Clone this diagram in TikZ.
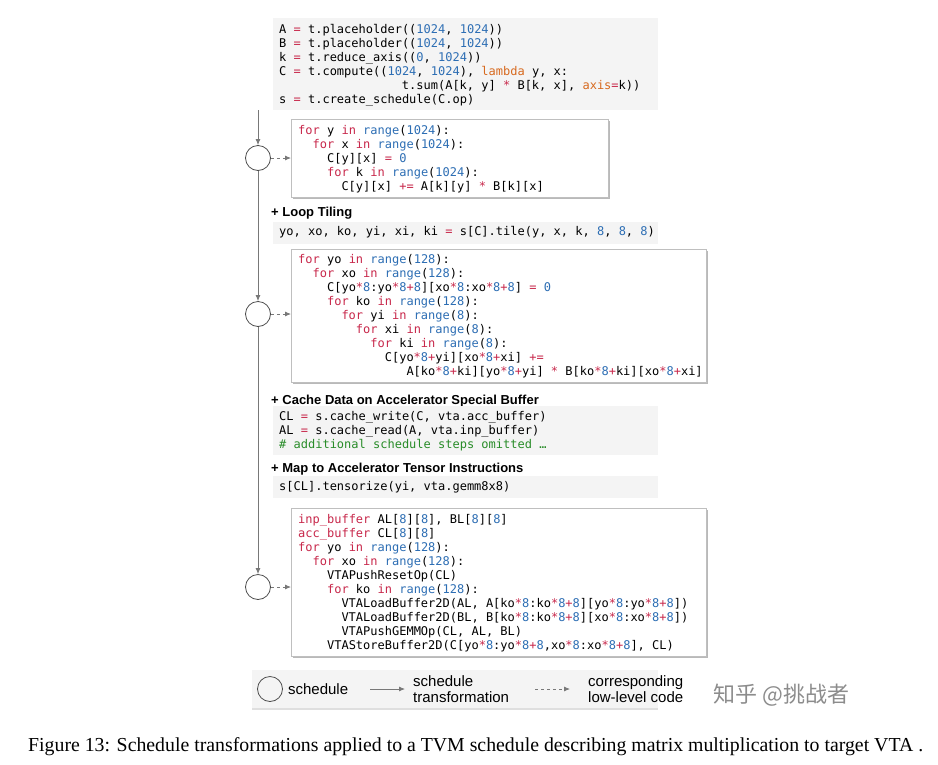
\documentclass[tikz,border=0pt]{standalone}
\usepackage{fontspec}
\setmainfont{Liberation Serif}
\newfontfamily\codefont{DejaVu Sans Mono}
\newfontfamily\headfont{Liberation Sans}
\newfontfamily\cjk{Noto Sans CJK SC}
\usetikzlibrary{positioning,shadows,arrows.meta}
\definecolor{kwred}{RGB}{200,40,75}
\definecolor{numblue}{RGB}{45,110,180}
\definecolor{argorange}{RGB}{215,105,30}
\definecolor{cmtgreen}{RGB}{40,140,40}
\definecolor{codebg}{RGB}{244,244,244}
\definecolor{linegray}{RGB}{120,120,120}
\newcommand{\kw}[1]{\textcolor{kwred}{#1}}
\newcommand{\nm}[1]{\textcolor{numblue}{#1}}
\newcommand{\ag}[1]{\textcolor{argorange}{#1}}
\newcommand{\ind}[1]{\hspace*{#1\dimexpr 7.22pt\relax}}
\tikzset{
  code/.style={anchor=north west,inner sep=0pt,align=left,
    font=\codefont\fontsize{12}{14}\selectfont},
  graybox/.style={fill=codebg,draw=none,anchor=north west},
  whitebox/.style={fill=white,draw=black!25,anchor=north west,
    drop shadow={shadow xshift=2pt,shadow yshift=-2pt,fill=black!55}},
  head/.style={anchor=base west,inner sep=0pt,font=\headfont\bfseries\fontsize{13}{15}\selectfont},
  sched/.style={circle,draw=black!70,thick,minimum size=25pt,inner sep=0pt},
  trans/.style={draw=linegray,thick,-{Latex[length=6pt,width=5pt]}},
  lower/.style={draw=linegray,thick,dashed,-{Latex[length=6pt,width=5pt]}},
  legend/.style={anchor=west,inner sep=0pt,align=left,font=\headfont\fontsize{15}{16}\selectfont}
}
\begin{document}
\begin{tikzpicture}[x=1pt,y=-1pt]
  \useasboundingbox (0,0) rectangle (938,764);

  % algorithm declaration
  \node[graybox,minimum width=385pt,minimum height=92pt] (decl) at (273,18) {};
  \node[code] (decltxt) at (279,24) {A \kw{=} t.placeholder((\nm{1024}, \nm{1024}))\\
    B \kw{=} t.placeholder((\nm{1024}, \nm{1024}))\\
    k \kw{=} t.reduce\_axis((\nm{0}, \nm{1024}))\\
    C \kw{=} t.compute((\nm{1024}, \nm{1024}), \ag{lambda} y, x:\\
    \ind{17}t.sum(A[k, y] \kw{*} B[k, x], \ag{axis}\kw{=}k))\\
    s \kw{=} t.create\_schedule(C.op)};

  % initial loop nest
  \node[whitebox,minimum width=317pt,minimum height=78pt] (nest1) at (291,119) {};
  \node[code] at (298,125) {\kw{for} y \kw{in} \nm{range}(\nm{1024}):\\
    \ind{2}\kw{for} x \kw{in} \nm{range}(\nm{1024}):\\
    \ind{4}C[y][x] \kw{=} \nm{0}\\
    \ind{4}\kw{for} k \kw{in} \nm{range}(\nm{1024}):\\
    \ind{6}C[y][x] \kw{+=} A[k][y] \kw{*} B[k][x]};

  % loop tiling
  \node[head] (tilehead) at (271,216) {+ Loop Tiling};
  \node[graybox,minimum width=385pt,minimum height=22pt] (tile) at (273,222) {};
  \node[code] at (279,226) {yo, xo, ko, yi, xi, ki \kw{=} s[C].tile(y, x, k, \nm{8}, \nm{8}, \nm{8})};

  \node[whitebox,minimum width=415pt,minimum height=133pt] (nest2) at (291,249) {};
  \node[code] at (298,254) {\kw{for} yo \kw{in} \nm{range}(\nm{128}):\\
    \ind{2}\kw{for} xo \kw{in} \nm{range}(\nm{128}):\\
    \ind{4}C[yo\kw{*}\nm{8}:yo\kw{*}\nm{8}\kw{+}\nm{8}][xo\kw{*}\nm{8}:xo\kw{*}\nm{8}\kw{+}\nm{8}] \kw{=} \nm{0}\\
    \ind{4}\kw{for} ko \kw{in} \nm{range}(\nm{128}):\\
    \ind{6}\kw{for} yi \kw{in} \nm{range}(\nm{8}):\\
    \ind{8}\kw{for} xi \kw{in} \nm{range}(\nm{8}):\\
    \ind{10}\kw{for} ki \kw{in} \nm{range}(\nm{8}):\\
    \ind{12}C[yo\kw{*}\nm{8}\kw{+}yi][xo\kw{*}\nm{8}\kw{+}xi] \kw{+=}\\
    \ind{15}A[ko\kw{*}\nm{8}\kw{+}ki][yo\kw{*}\nm{8}\kw{+}yi] \kw{*} B[ko\kw{*}\nm{8}\kw{+}ki][xo\kw{*}\nm{8}\kw{+}xi]};

  % cache data
  \node[head] (cachehead) at (271,404) {+ Cache Data on Accelerator Special Buffer};
  \node[graybox,minimum width=385pt,minimum height=49pt] (cache) at (273,406) {};
  \node[code] at (279,411) {CL \kw{=} s.cache\_write(C, vta.acc\_buffer)\\
    AL \kw{=} s.cache\_read(A, vta.inp\_buffer)\\
    \textcolor{cmtgreen}{\# additional schedule steps omitted \dots}};

  % tensorize
  \node[head] (maphead) at (271,472) {+ Map to Accelerator Tensor Instructions};
  \node[graybox,minimum width=385pt,minimum height=22pt] (tens) at (273,476) {};
  \node[code] at (279,481) {s[CL].tensorize(yi, vta.gemm8x8)};

  \node[whitebox,minimum width=415pt,minimum height=148pt] (nest3) at (291,508) {};
  \node[code] at (298,514) {\kw{inp\_buffer} AL[\nm{8}][\nm{8}], BL[\nm{8}][\nm{8}]\\
    \kw{acc\_buffer} CL[\nm{8}][\nm{8}]\\
    \kw{for} yo \kw{in} \nm{range}(\nm{128}):\\
    \ind{2}\kw{for} xo \kw{in} \nm{range}(\nm{128}):\\
    \ind{4}VTAPushResetOp(CL)\\
    \ind{4}\kw{for} ko \kw{in} \nm{range}(\nm{128}):\\
    \ind{6}VTALoadBuffer2D(AL, A[ko\kw{*}\nm{8}:ko\kw{*}\nm{8}\kw{+}\nm{8}][yo\kw{*}\nm{8}:yo\kw{*}\nm{8}\kw{+}\nm{8}])\\
    \ind{6}VTALoadBuffer2D(BL, B[ko\kw{*}\nm{8}:ko\kw{*}\nm{8}\kw{+}\nm{8}][xo\kw{*}\nm{8}:xo\kw{*}\nm{8}\kw{+}\nm{8}])\\
    \ind{6}VTAPushGEMMOp(CL, AL, BL)\\
    \ind{4}VTAStoreBuffer2D(C[yo\kw{*}\nm{8}:yo\kw{*}\nm{8}\kw{+}\nm{8},xo\kw{*}\nm{8}:xo\kw{*}\nm{8}\kw{+}\nm{8}], CL)};

  % schedules and transformations
  \coordinate (start) at (258,110);
  \node[sched] (s1) at (258,158) {};
  \node[sched] (s2) at (258,314) {};
  \node[sched] (s3) at (258,587) {};
  \draw[trans] (start) -- (s1);
  \draw[trans] (s1) -- (s2);
  \draw[trans] (s2) -- (s3);
  \draw[lower] (s1) -- (s1 -| nest1.west);
  \draw[lower] (s2) -- (s2 -| nest2.west);
  \draw[lower] (s3) -- (s3 -| nest3.west);

  % legend
  \node[graybox,minimum width=406pt,minimum height=38pt,
    drop shadow={shadow xshift=0pt,shadow yshift=-1.5pt,fill=black!25}] (leg) at (252,670) {};
  \node[sched] (legs) at (270,689) {};
  \node[legend,right=5pt of legs] (legstxt) {schedule};
  \coordinate (ta) at (370,689);
  \coordinate (tb) at (405,689);
  \draw[trans] (ta) -- (tb);
  \node[legend] (legt) at (413,689) {schedule\\transformation};
  \coordinate (la) at (535,689);
  \coordinate (lb) at (570,689);
  \draw[lower] (la) -- (lb);
  \node[legend] (legl) at (588,689) {corresponding\\low-level code};

  % watermark and caption
  \node[anchor=west,text=black!45,font=\cjk\fontsize{22}{24}\selectfont] (mark) at (710,695) {知乎 @挑战者};
  \node[anchor=base west,inner sep=0pt,font=\fontsize{19.8}{22}\selectfont] (cap) at (28,751)
    {Figure 13: Schedule transformations applied to a TVM schedule describing matrix multiplication to target VTA .};
\end{tikzpicture}
\end{document}
